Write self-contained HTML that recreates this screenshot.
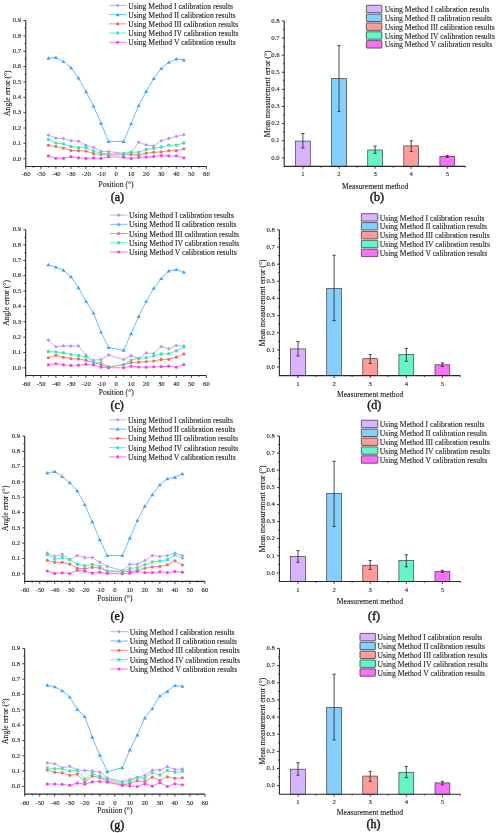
<!DOCTYPE html>
<html><head><meta charset="utf-8"><title>Calibration results figure</title>
<style>
html,body{margin:0;padding:0;background:#fff;}
body{width:496px;height:833px;overflow:hidden;}
svg{display:block;font-family:"Liberation Serif", serif;filter:blur(0.35px);}
</style></head><body>
<svg width="496" height="833" viewBox="0 0 496 833">
<rect width="496" height="833" fill="#fff"/>
<g stroke="#2a2a2a" stroke-width="1.1" fill="none">
<path d="M25.80 20.56V166.44H206.40"/>
<path d="M25.80 158.76h-2.4M25.80 143.41h-2.4M25.80 128.05h-2.4M25.80 112.69h-2.4M25.80 97.34h-2.4M25.80 81.98h-2.4M25.80 66.63h-2.4M25.80 51.27h-2.4M25.80 35.92h-2.4M25.80 20.56h-2.4M25.80 151.08h-1.3M25.80 135.73h-1.3M25.80 120.37h-1.3M25.80 105.02h-1.3M25.80 89.66h-1.3M25.80 74.31h-1.3M25.80 58.95h-1.3M25.80 43.60h-1.3M25.80 28.24h-1.3M25.80 166.44v2.4M40.85 166.44v2.4M55.90 166.44v2.4M70.95 166.44v2.4M86.00 166.44v2.4M101.05 166.44v2.4M116.10 166.44v2.4M131.15 166.44v2.4M146.20 166.44v2.4M161.25 166.44v2.4M176.30 166.44v2.4M191.35 166.44v2.4M206.40 166.44v2.4M33.33 166.44v1.3M48.38 166.44v1.3M63.42 166.44v1.3M78.47 166.44v1.3M93.52 166.44v1.3M108.57 166.44v1.3M123.62 166.44v1.3M138.67 166.44v1.3M153.72 166.44v1.3M168.78 166.44v1.3M183.82 166.44v1.3M198.88 166.44v1.3" stroke-width="0.9"/>
</g>
<g fill="#1a1a1a" stroke="#1a1a1a" stroke-width="0.1" font-family='"Liberation Serif", serif'>
<g stroke-width="0.1">
<text x="21.20" y="160.51" font-size="6.7" text-anchor="end" >0.0</text>
<text x="21.20" y="145.16" font-size="6.7" text-anchor="end" >0.1</text>
<text x="21.20" y="129.80" font-size="6.7" text-anchor="end" >0.2</text>
<text x="21.20" y="114.44" font-size="6.7" text-anchor="end" >0.3</text>
<text x="21.20" y="99.09" font-size="6.7" text-anchor="end" >0.4</text>
<text x="21.20" y="83.73" font-size="6.7" text-anchor="end" >0.5</text>
<text x="21.20" y="68.38" font-size="6.7" text-anchor="end" >0.6</text>
<text x="21.20" y="53.02" font-size="6.7" text-anchor="end" >0.7</text>
<text x="21.20" y="37.67" font-size="6.7" text-anchor="end" >0.8</text>
<text x="21.20" y="22.31" font-size="6.7" text-anchor="end" >0.9</text>
<text x="26.10" y="176.20" font-size="6.7" text-anchor="middle" >-60</text>
<text x="41.15" y="176.20" font-size="6.7" text-anchor="middle" >-50</text>
<text x="56.20" y="176.20" font-size="6.7" text-anchor="middle" >-40</text>
<text x="71.25" y="176.20" font-size="6.7" text-anchor="middle" >-30</text>
<text x="86.30" y="176.20" font-size="6.7" text-anchor="middle" >-20</text>
<text x="101.35" y="176.20" font-size="6.7" text-anchor="middle" >-10</text>
<text x="116.10" y="176.20" font-size="6.7" text-anchor="middle" >0</text>
<text x="131.15" y="176.20" font-size="6.7" text-anchor="middle" >10</text>
<text x="146.20" y="176.20" font-size="6.7" text-anchor="middle" >20</text>
<text x="161.25" y="176.20" font-size="6.7" text-anchor="middle" >30</text>
<text x="176.30" y="176.20" font-size="6.7" text-anchor="middle" >40</text>
<text x="191.35" y="176.20" font-size="6.7" text-anchor="middle" >50</text>
<text x="206.40" y="176.20" font-size="6.7" text-anchor="middle" >60</text>
</g>
<text x="116.00" y="187.30" font-size="7.65" text-anchor="middle" >Position (°)</text>
<text x="117.40" y="201.00" font-size="12" text-anchor="middle" stroke-width="0.45">(a)</text>
<text transform="translate(9.60 93.20) rotate(-90)" font-size="7.65" text-anchor="middle">Angle error (°)</text>
<text x="128.20" y="8.50" font-size="7.65" text-anchor="start" >Using Method I calibration results</text>
<text x="128.20" y="17.72" font-size="7.65" text-anchor="start" >Using Method II calibration results</text>
<text x="128.20" y="26.94" font-size="7.65" text-anchor="start" >Using Method III calibration results</text>
<text x="128.20" y="36.16" font-size="7.65" text-anchor="start" >Using Method IV calibration results</text>
<text x="128.20" y="45.38" font-size="7.65" text-anchor="start" >Using Method V calibration results</text>
</g>
<path d="M109.00 5.40H126.40" stroke="#C99AF8" stroke-width="0.9"/>
<path d="M117.70 3.50L119.60 5.40L117.70 7.30L115.80 5.40Z" fill="#C28CFA"/>
<path d="M109.00 14.62H126.40" stroke="#5CB6F2" stroke-width="0.9"/>
<path d="M117.70 12.72L119.75 16.14L115.65 16.14Z" fill="#3AA6F5"/>
<path d="M109.00 23.84H126.40" stroke="#F27F7F" stroke-width="0.9"/>
<circle cx="117.70" cy="23.84" r="1.60" fill="#F76868"/>
<path d="M109.00 33.06H126.40" stroke="#52EDB9" stroke-width="0.9"/>
<rect x="116.25" y="31.61" width="2.90" height="2.90" rx="0.5" fill="#30EBA8"/>
<path d="M109.00 42.28H126.40" stroke="#F26AF2" stroke-width="0.9"/>
<circle cx="117.70" cy="42.28" r="1.60" fill="#F540F5"/>
<path d="M48.38 135.03L55.90 138.13L63.42 138.60L70.95 140.77L78.47 141.24L86.00 145.26L93.52 147.44L101.05 151.47L108.57 151.47L123.62 153.32L131.15 152.55L138.67 142.32L146.20 144.96L153.72 146.04L161.25 140.77L168.78 138.44L176.30 136.43L183.82 134.72" fill="none" stroke="#C99AF8" stroke-width="0.9"/>
<path d="M48.38 58.16L55.90 57.38L63.42 61.56L70.95 67.61L78.47 77.99L86.00 91.64L93.52 106.05L101.05 123.25L108.57 141.39L123.62 141.39L131.15 123.56L138.67 105.43L146.20 91.48L153.72 78.46L161.25 68.54L168.78 62.34L176.30 58.93L183.82 59.86" fill="none" stroke="#5CB6F2" stroke-width="0.9"/>
<path d="M48.38 145.26L55.90 146.50L63.42 148.06L70.95 150.53L78.47 150.69L86.00 151.00L93.52 153.63L101.05 154.56L108.57 155.03L123.62 154.88L131.15 154.41L138.67 154.88L146.20 153.17L153.72 152.24L161.25 151.93L168.78 150.69L176.30 150.69L183.82 148.83" fill="none" stroke="#F27F7F" stroke-width="0.9"/>
<path d="M48.38 139.38L55.90 143.09L63.42 143.87L70.95 146.50L78.47 147.44L86.00 147.44L93.52 151.00L101.05 153.32L108.57 153.79L123.62 153.48L131.15 152.24L138.67 152.24L146.20 149.45L153.72 148.37L161.25 146.97L168.78 145.11L176.30 145.11L183.82 142.94" fill="none" stroke="#52EDB9" stroke-width="0.9"/>
<path d="M48.38 155.96L55.90 158.28L63.42 158.28L70.95 156.58L78.47 157.82L86.00 158.44L93.52 157.97L101.05 158.44L108.57 156.74L123.62 157.35L131.15 158.44L138.67 157.35L146.20 157.04L153.72 156.43L161.25 155.65L168.78 155.96L176.30 155.96L183.82 157.82" fill="none" stroke="#F26AF2" stroke-width="0.9"/>
<path d="M48.38 133.13L50.27 135.03L48.38 136.94L46.48 135.03Z" fill="#C28CFA"/>
<path d="M55.90 136.23L57.80 138.13L55.90 140.03L54.00 138.13Z" fill="#C28CFA"/>
<path d="M63.42 136.70L65.33 138.60L63.42 140.50L61.52 138.60Z" fill="#C28CFA"/>
<path d="M70.95 138.87L72.85 140.77L70.95 142.67L69.05 140.77Z" fill="#C28CFA"/>
<path d="M78.47 139.34L80.38 141.24L78.47 143.14L76.57 141.24Z" fill="#C28CFA"/>
<path d="M86.00 143.36L87.90 145.26L86.00 147.16L84.10 145.26Z" fill="#C28CFA"/>
<path d="M93.52 145.53L95.42 147.44L93.52 149.34L91.62 147.44Z" fill="#C28CFA"/>
<path d="M101.05 149.56L102.95 151.47L101.05 153.37L99.15 151.47Z" fill="#C28CFA"/>
<path d="M108.57 149.56L110.47 151.47L108.57 153.37L106.67 151.47Z" fill="#C28CFA"/>
<path d="M123.62 151.42L125.52 153.32L123.62 155.22L121.72 153.32Z" fill="#C28CFA"/>
<path d="M131.15 150.65L133.05 152.55L131.15 154.45L129.25 152.55Z" fill="#C28CFA"/>
<path d="M138.67 140.42L140.57 142.32L138.67 144.22L136.77 142.32Z" fill="#C28CFA"/>
<path d="M146.20 143.06L148.10 144.96L146.20 146.86L144.30 144.96Z" fill="#C28CFA"/>
<path d="M153.72 144.14L155.62 146.04L153.72 147.94L151.82 146.04Z" fill="#C28CFA"/>
<path d="M161.25 138.87L163.15 140.77L161.25 142.67L159.35 140.77Z" fill="#C28CFA"/>
<path d="M168.78 136.54L170.68 138.44L168.78 140.34L166.88 138.44Z" fill="#C28CFA"/>
<path d="M176.30 134.53L178.20 136.43L176.30 138.33L174.40 136.43Z" fill="#C28CFA"/>
<path d="M183.82 132.82L185.72 134.72L183.82 136.62L181.92 134.72Z" fill="#C28CFA"/>
<path d="M48.38 56.26L50.42 59.68L46.33 59.68Z" fill="#3AA6F5"/>
<path d="M55.90 55.48L57.95 58.90L53.85 58.90Z" fill="#3AA6F5"/>
<path d="M63.42 59.66L65.47 63.09L61.38 63.09Z" fill="#3AA6F5"/>
<path d="M70.95 65.71L73.00 69.13L68.90 69.13Z" fill="#3AA6F5"/>
<path d="M78.47 76.09L80.52 79.51L76.42 79.51Z" fill="#3AA6F5"/>
<path d="M86.00 89.73L88.05 93.16L83.95 93.16Z" fill="#3AA6F5"/>
<path d="M93.52 104.15L95.57 107.57L91.47 107.57Z" fill="#3AA6F5"/>
<path d="M101.05 121.35L103.10 124.77L99.00 124.77Z" fill="#3AA6F5"/>
<path d="M108.57 139.49L110.62 142.91L106.52 142.91Z" fill="#3AA6F5"/>
<path d="M123.62 139.49L125.67 142.91L121.57 142.91Z" fill="#3AA6F5"/>
<path d="M131.15 121.66L133.20 125.08L129.10 125.08Z" fill="#3AA6F5"/>
<path d="M138.67 103.53L140.72 106.95L136.62 106.95Z" fill="#3AA6F5"/>
<path d="M146.20 89.58L148.25 93.00L144.15 93.00Z" fill="#3AA6F5"/>
<path d="M153.72 76.56L155.78 79.98L151.67 79.98Z" fill="#3AA6F5"/>
<path d="M161.25 66.64L163.30 70.06L159.20 70.06Z" fill="#3AA6F5"/>
<path d="M168.78 60.44L170.83 63.86L166.72 63.86Z" fill="#3AA6F5"/>
<path d="M176.30 57.03L178.35 60.45L174.25 60.45Z" fill="#3AA6F5"/>
<path d="M183.82 57.96L185.88 61.38L181.77 61.38Z" fill="#3AA6F5"/>
<circle cx="48.38" cy="145.26" r="1.60" fill="#F76868"/>
<circle cx="55.90" cy="146.50" r="1.60" fill="#F76868"/>
<circle cx="63.42" cy="148.06" r="1.60" fill="#F76868"/>
<circle cx="70.95" cy="150.53" r="1.60" fill="#F76868"/>
<circle cx="78.47" cy="150.69" r="1.60" fill="#F76868"/>
<circle cx="86.00" cy="151.00" r="1.60" fill="#F76868"/>
<circle cx="93.52" cy="153.63" r="1.60" fill="#F76868"/>
<circle cx="101.05" cy="154.56" r="1.60" fill="#F76868"/>
<circle cx="108.57" cy="155.03" r="1.60" fill="#F76868"/>
<circle cx="123.62" cy="154.88" r="1.60" fill="#F76868"/>
<circle cx="131.15" cy="154.41" r="1.60" fill="#F76868"/>
<circle cx="138.67" cy="154.88" r="1.60" fill="#F76868"/>
<circle cx="146.20" cy="153.17" r="1.60" fill="#F76868"/>
<circle cx="153.72" cy="152.24" r="1.60" fill="#F76868"/>
<circle cx="161.25" cy="151.93" r="1.60" fill="#F76868"/>
<circle cx="168.78" cy="150.69" r="1.60" fill="#F76868"/>
<circle cx="176.30" cy="150.69" r="1.60" fill="#F76868"/>
<circle cx="183.82" cy="148.83" r="1.60" fill="#F76868"/>
<rect x="46.92" y="137.93" width="2.90" height="2.90" rx="0.5" fill="#30EBA8"/>
<rect x="54.45" y="141.65" width="2.90" height="2.90" rx="0.5" fill="#30EBA8"/>
<rect x="61.97" y="142.42" width="2.90" height="2.90" rx="0.5" fill="#30EBA8"/>
<rect x="69.50" y="145.06" width="2.90" height="2.90" rx="0.5" fill="#30EBA8"/>
<rect x="77.02" y="145.99" width="2.90" height="2.90" rx="0.5" fill="#30EBA8"/>
<rect x="84.55" y="145.99" width="2.90" height="2.90" rx="0.5" fill="#30EBA8"/>
<rect x="92.07" y="149.55" width="2.90" height="2.90" rx="0.5" fill="#30EBA8"/>
<rect x="99.60" y="151.88" width="2.90" height="2.90" rx="0.5" fill="#30EBA8"/>
<rect x="107.12" y="152.34" width="2.90" height="2.90" rx="0.5" fill="#30EBA8"/>
<rect x="122.17" y="152.03" width="2.90" height="2.90" rx="0.5" fill="#30EBA8"/>
<rect x="129.70" y="150.79" width="2.90" height="2.90" rx="0.5" fill="#30EBA8"/>
<rect x="137.22" y="150.79" width="2.90" height="2.90" rx="0.5" fill="#30EBA8"/>
<rect x="144.75" y="148.00" width="2.90" height="2.90" rx="0.5" fill="#30EBA8"/>
<rect x="152.28" y="146.92" width="2.90" height="2.90" rx="0.5" fill="#30EBA8"/>
<rect x="159.80" y="145.52" width="2.90" height="2.90" rx="0.5" fill="#30EBA8"/>
<rect x="167.33" y="143.66" width="2.90" height="2.90" rx="0.5" fill="#30EBA8"/>
<rect x="174.85" y="143.66" width="2.90" height="2.90" rx="0.5" fill="#30EBA8"/>
<rect x="182.38" y="141.49" width="2.90" height="2.90" rx="0.5" fill="#30EBA8"/>
<circle cx="48.38" cy="155.96" r="1.60" fill="#F540F5"/>
<circle cx="55.90" cy="158.28" r="1.60" fill="#F540F5"/>
<circle cx="63.42" cy="158.28" r="1.60" fill="#F540F5"/>
<circle cx="70.95" cy="156.58" r="1.60" fill="#F540F5"/>
<circle cx="78.47" cy="157.82" r="1.60" fill="#F540F5"/>
<circle cx="86.00" cy="158.44" r="1.60" fill="#F540F5"/>
<circle cx="93.52" cy="157.97" r="1.60" fill="#F540F5"/>
<circle cx="101.05" cy="158.44" r="1.60" fill="#F540F5"/>
<circle cx="108.57" cy="156.74" r="1.60" fill="#F540F5"/>
<circle cx="123.62" cy="157.35" r="1.60" fill="#F540F5"/>
<circle cx="131.15" cy="158.44" r="1.60" fill="#F540F5"/>
<circle cx="138.67" cy="157.35" r="1.60" fill="#F540F5"/>
<circle cx="146.20" cy="157.04" r="1.60" fill="#F540F5"/>
<circle cx="153.72" cy="156.43" r="1.60" fill="#F540F5"/>
<circle cx="161.25" cy="155.65" r="1.60" fill="#F540F5"/>
<circle cx="168.78" cy="155.96" r="1.60" fill="#F540F5"/>
<circle cx="176.30" cy="155.96" r="1.60" fill="#F540F5"/>
<circle cx="183.82" cy="157.82" r="1.60" fill="#F540F5"/>
<g stroke="#2a2a2a" stroke-width="1.1" fill="none">
<path d="M25.70 229.70V375.49H206.40"/>
<path d="M25.70 367.82h-2.4M25.70 352.47h-2.4M25.70 337.13h-2.4M25.70 321.78h-2.4M25.70 306.43h-2.4M25.70 291.08h-2.4M25.70 275.74h-2.4M25.70 260.39h-2.4M25.70 245.04h-2.4M25.70 229.70h-2.4M25.70 360.15h-1.3M25.70 344.80h-1.3M25.70 329.45h-1.3M25.70 314.11h-1.3M25.70 298.76h-1.3M25.70 283.41h-1.3M25.70 268.06h-1.3M25.70 252.72h-1.3M25.70 237.37h-1.3M25.80 375.49v2.4M40.85 375.49v2.4M55.90 375.49v2.4M70.95 375.49v2.4M86.00 375.49v2.4M101.05 375.49v2.4M116.10 375.49v2.4M131.15 375.49v2.4M146.20 375.49v2.4M161.25 375.49v2.4M176.30 375.49v2.4M191.35 375.49v2.4M206.40 375.49v2.4M33.33 375.49v1.3M48.38 375.49v1.3M63.42 375.49v1.3M78.47 375.49v1.3M93.52 375.49v1.3M108.57 375.49v1.3M123.62 375.49v1.3M138.67 375.49v1.3M153.72 375.49v1.3M168.78 375.49v1.3M183.82 375.49v1.3M198.88 375.49v1.3" stroke-width="0.9"/>
</g>
<g fill="#1a1a1a" stroke="#1a1a1a" stroke-width="0.1" font-family='"Liberation Serif", serif'>
<g stroke-width="0.1">
<text x="21.10" y="369.57" font-size="6.7" text-anchor="end" >0.0</text>
<text x="21.10" y="354.22" font-size="6.7" text-anchor="end" >0.1</text>
<text x="21.10" y="338.88" font-size="6.7" text-anchor="end" >0.2</text>
<text x="21.10" y="323.53" font-size="6.7" text-anchor="end" >0.3</text>
<text x="21.10" y="308.18" font-size="6.7" text-anchor="end" >0.4</text>
<text x="21.10" y="292.83" font-size="6.7" text-anchor="end" >0.5</text>
<text x="21.10" y="277.49" font-size="6.7" text-anchor="end" >0.6</text>
<text x="21.10" y="262.14" font-size="6.7" text-anchor="end" >0.7</text>
<text x="21.10" y="246.79" font-size="6.7" text-anchor="end" >0.8</text>
<text x="21.10" y="231.45" font-size="6.7" text-anchor="end" >0.9</text>
<text x="26.10" y="386.00" font-size="6.7" text-anchor="middle" >-60</text>
<text x="41.15" y="386.00" font-size="6.7" text-anchor="middle" >-50</text>
<text x="56.20" y="386.00" font-size="6.7" text-anchor="middle" >-40</text>
<text x="71.25" y="386.00" font-size="6.7" text-anchor="middle" >-30</text>
<text x="86.30" y="386.00" font-size="6.7" text-anchor="middle" >-20</text>
<text x="101.35" y="386.00" font-size="6.7" text-anchor="middle" >-10</text>
<text x="116.10" y="386.00" font-size="6.7" text-anchor="middle" >0</text>
<text x="131.15" y="386.00" font-size="6.7" text-anchor="middle" >10</text>
<text x="146.20" y="386.00" font-size="6.7" text-anchor="middle" >20</text>
<text x="161.25" y="386.00" font-size="6.7" text-anchor="middle" >30</text>
<text x="176.30" y="386.00" font-size="6.7" text-anchor="middle" >40</text>
<text x="191.35" y="386.00" font-size="6.7" text-anchor="middle" >50</text>
<text x="206.40" y="386.00" font-size="6.7" text-anchor="middle" >60</text>
</g>
<text x="116.20" y="394.50" font-size="7.65" text-anchor="middle" >Position (°)</text>
<text x="117.10" y="408.70" font-size="12" text-anchor="middle" stroke-width="0.45">(c)</text>
<text transform="translate(8.70 302.80) rotate(-90)" font-size="7.65" text-anchor="middle">Angle error (°)</text>
<text x="129.10" y="218.20" font-size="7.65" text-anchor="start" >Using Method I calibration results</text>
<text x="129.10" y="227.42" font-size="7.65" text-anchor="start" >Using Method II calibration results</text>
<text x="129.10" y="236.64" font-size="7.65" text-anchor="start" >Using Method III calibration results</text>
<text x="129.10" y="245.86" font-size="7.65" text-anchor="start" >Using Method IV calibration results</text>
<text x="129.10" y="255.08" font-size="7.65" text-anchor="start" >Using Method V calibration results</text>
</g>
<path d="M110.00 215.10H127.40" stroke="#C99AF8" stroke-width="0.9"/>
<path d="M118.70 213.20L120.60 215.10L118.70 217.00L116.80 215.10Z" fill="#C28CFA"/>
<path d="M110.00 224.32H127.40" stroke="#5CB6F2" stroke-width="0.9"/>
<path d="M118.70 222.42L120.75 225.84L116.65 225.84Z" fill="#3AA6F5"/>
<path d="M110.00 233.54H127.40" stroke="#F27F7F" stroke-width="0.9"/>
<circle cx="118.70" cy="233.54" r="1.60" fill="#F76868"/>
<path d="M110.00 242.76H127.40" stroke="#52EDB9" stroke-width="0.9"/>
<rect x="117.25" y="241.31" width="2.90" height="2.90" rx="0.5" fill="#30EBA8"/>
<path d="M110.00 251.98H127.40" stroke="#F26AF2" stroke-width="0.9"/>
<circle cx="118.70" cy="251.98" r="1.60" fill="#F540F5"/>
<path d="M48.38 340.08L55.90 346.84L63.42 345.92L70.95 346.07L78.47 345.92L86.00 355.30L93.52 360.21L101.05 359.60L108.57 354.99L123.62 359.60L131.15 355.76L138.67 358.52L146.20 352.99L153.72 353.45L161.25 346.54L168.78 348.84L176.30 345.46L183.82 346.07" fill="none" stroke="#C99AF8" stroke-width="0.9"/>
<path d="M48.38 264.77L55.90 267.07L63.42 270.15L70.95 276.76L78.47 287.67L86.00 301.35L93.52 313.03L101.05 332.09L108.57 347.46L123.62 350.22L131.15 333.62L138.67 316.41L146.20 301.35L153.72 288.28L161.25 278.60L168.78 270.92L176.30 269.53L183.82 272.14" fill="none" stroke="#5CB6F2" stroke-width="0.9"/>
<path d="M48.38 357.76L55.90 355.30L63.42 357.29L70.95 358.68L78.47 358.83L86.00 360.37L93.52 362.67L101.05 364.52L108.57 367.13L123.62 364.83L131.15 362.52L138.67 362.21L146.20 361.60L153.72 360.98L161.25 359.45L168.78 359.29L176.30 357.14L183.82 353.91" fill="none" stroke="#F27F7F" stroke-width="0.9"/>
<path d="M48.38 351.45L55.90 351.92L63.42 352.68L70.95 354.37L78.47 355.45L86.00 356.99L93.52 362.37L101.05 362.67L108.57 366.82L123.62 364.52L131.15 360.21L138.67 358.52L146.20 357.76L153.72 355.76L161.25 354.07L168.78 353.76L176.30 350.69L183.82 347.15" fill="none" stroke="#52EDB9" stroke-width="0.9"/>
<path d="M48.38 364.83L55.90 363.75L63.42 364.83L70.95 365.44L78.47 365.13L86.00 364.21L93.52 364.83L101.05 367.13L108.57 367.75L123.62 367.75L131.15 366.21L138.67 366.98L146.20 367.13L153.72 366.82L161.25 366.67L168.78 366.21L176.30 367.13L183.82 364.52" fill="none" stroke="#F26AF2" stroke-width="0.9"/>
<path d="M48.38 338.18L50.27 340.08L48.38 341.98L46.48 340.08Z" fill="#C28CFA"/>
<path d="M55.90 344.94L57.80 346.84L55.90 348.74L54.00 346.84Z" fill="#C28CFA"/>
<path d="M63.42 344.02L65.33 345.92L63.42 347.82L61.52 345.92Z" fill="#C28CFA"/>
<path d="M70.95 344.17L72.85 346.07L70.95 347.97L69.05 346.07Z" fill="#C28CFA"/>
<path d="M78.47 344.02L80.38 345.92L78.47 347.82L76.57 345.92Z" fill="#C28CFA"/>
<path d="M86.00 353.40L87.90 355.30L86.00 357.20L84.10 355.30Z" fill="#C28CFA"/>
<path d="M93.52 358.31L95.42 360.21L93.52 362.11L91.62 360.21Z" fill="#C28CFA"/>
<path d="M101.05 357.70L102.95 359.60L101.05 361.50L99.15 359.60Z" fill="#C28CFA"/>
<path d="M108.57 353.09L110.47 354.99L108.57 356.89L106.67 354.99Z" fill="#C28CFA"/>
<path d="M123.62 357.70L125.52 359.60L123.62 361.50L121.72 359.60Z" fill="#C28CFA"/>
<path d="M131.15 353.86L133.05 355.76L131.15 357.66L129.25 355.76Z" fill="#C28CFA"/>
<path d="M138.67 356.62L140.57 358.52L138.67 360.42L136.77 358.52Z" fill="#C28CFA"/>
<path d="M146.20 351.09L148.10 352.99L146.20 354.89L144.30 352.99Z" fill="#C28CFA"/>
<path d="M153.72 351.55L155.62 353.45L153.72 355.35L151.82 353.45Z" fill="#C28CFA"/>
<path d="M161.25 344.64L163.15 346.54L161.25 348.44L159.35 346.54Z" fill="#C28CFA"/>
<path d="M168.78 346.94L170.68 348.84L168.78 350.74L166.88 348.84Z" fill="#C28CFA"/>
<path d="M176.30 343.56L178.20 345.46L176.30 347.36L174.40 345.46Z" fill="#C28CFA"/>
<path d="M183.82 344.17L185.72 346.07L183.82 347.97L181.92 346.07Z" fill="#C28CFA"/>
<path d="M48.38 262.87L50.42 266.29L46.33 266.29Z" fill="#3AA6F5"/>
<path d="M55.90 265.17L57.95 268.59L53.85 268.59Z" fill="#3AA6F5"/>
<path d="M63.42 268.25L65.47 271.67L61.38 271.67Z" fill="#3AA6F5"/>
<path d="M70.95 274.86L73.00 278.28L68.90 278.28Z" fill="#3AA6F5"/>
<path d="M78.47 285.77L80.52 289.19L76.42 289.19Z" fill="#3AA6F5"/>
<path d="M86.00 299.45L88.05 302.87L83.95 302.87Z" fill="#3AA6F5"/>
<path d="M93.52 311.13L95.57 314.55L91.47 314.55Z" fill="#3AA6F5"/>
<path d="M101.05 330.19L103.10 333.61L99.00 333.61Z" fill="#3AA6F5"/>
<path d="M108.57 345.56L110.62 348.98L106.52 348.98Z" fill="#3AA6F5"/>
<path d="M123.62 348.32L125.67 351.74L121.57 351.74Z" fill="#3AA6F5"/>
<path d="M131.15 331.72L133.20 335.14L129.10 335.14Z" fill="#3AA6F5"/>
<path d="M138.67 314.51L140.72 317.93L136.62 317.93Z" fill="#3AA6F5"/>
<path d="M146.20 299.45L148.25 302.87L144.15 302.87Z" fill="#3AA6F5"/>
<path d="M153.72 286.38L155.78 289.80L151.67 289.80Z" fill="#3AA6F5"/>
<path d="M161.25 276.70L163.30 280.12L159.20 280.12Z" fill="#3AA6F5"/>
<path d="M168.78 269.02L170.83 272.44L166.72 272.44Z" fill="#3AA6F5"/>
<path d="M176.30 267.63L178.35 271.05L174.25 271.05Z" fill="#3AA6F5"/>
<path d="M183.82 270.24L185.88 273.66L181.77 273.66Z" fill="#3AA6F5"/>
<circle cx="48.38" cy="357.76" r="1.60" fill="#F76868"/>
<circle cx="55.90" cy="355.30" r="1.60" fill="#F76868"/>
<circle cx="63.42" cy="357.29" r="1.60" fill="#F76868"/>
<circle cx="70.95" cy="358.68" r="1.60" fill="#F76868"/>
<circle cx="78.47" cy="358.83" r="1.60" fill="#F76868"/>
<circle cx="86.00" cy="360.37" r="1.60" fill="#F76868"/>
<circle cx="93.52" cy="362.67" r="1.60" fill="#F76868"/>
<circle cx="101.05" cy="364.52" r="1.60" fill="#F76868"/>
<circle cx="108.57" cy="367.13" r="1.60" fill="#F76868"/>
<circle cx="123.62" cy="364.83" r="1.60" fill="#F76868"/>
<circle cx="131.15" cy="362.52" r="1.60" fill="#F76868"/>
<circle cx="138.67" cy="362.21" r="1.60" fill="#F76868"/>
<circle cx="146.20" cy="361.60" r="1.60" fill="#F76868"/>
<circle cx="153.72" cy="360.98" r="1.60" fill="#F76868"/>
<circle cx="161.25" cy="359.45" r="1.60" fill="#F76868"/>
<circle cx="168.78" cy="359.29" r="1.60" fill="#F76868"/>
<circle cx="176.30" cy="357.14" r="1.60" fill="#F76868"/>
<circle cx="183.82" cy="353.91" r="1.60" fill="#F76868"/>
<rect x="46.92" y="350.00" width="2.90" height="2.90" rx="0.5" fill="#30EBA8"/>
<rect x="54.45" y="350.47" width="2.90" height="2.90" rx="0.5" fill="#30EBA8"/>
<rect x="61.97" y="351.23" width="2.90" height="2.90" rx="0.5" fill="#30EBA8"/>
<rect x="69.50" y="352.92" width="2.90" height="2.90" rx="0.5" fill="#30EBA8"/>
<rect x="77.02" y="354.00" width="2.90" height="2.90" rx="0.5" fill="#30EBA8"/>
<rect x="84.55" y="355.54" width="2.90" height="2.90" rx="0.5" fill="#30EBA8"/>
<rect x="92.07" y="360.92" width="2.90" height="2.90" rx="0.5" fill="#30EBA8"/>
<rect x="99.60" y="361.22" width="2.90" height="2.90" rx="0.5" fill="#30EBA8"/>
<rect x="107.12" y="365.37" width="2.90" height="2.90" rx="0.5" fill="#30EBA8"/>
<rect x="122.17" y="363.07" width="2.90" height="2.90" rx="0.5" fill="#30EBA8"/>
<rect x="129.70" y="358.76" width="2.90" height="2.90" rx="0.5" fill="#30EBA8"/>
<rect x="137.22" y="357.07" width="2.90" height="2.90" rx="0.5" fill="#30EBA8"/>
<rect x="144.75" y="356.31" width="2.90" height="2.90" rx="0.5" fill="#30EBA8"/>
<rect x="152.28" y="354.31" width="2.90" height="2.90" rx="0.5" fill="#30EBA8"/>
<rect x="159.80" y="352.62" width="2.90" height="2.90" rx="0.5" fill="#30EBA8"/>
<rect x="167.33" y="352.31" width="2.90" height="2.90" rx="0.5" fill="#30EBA8"/>
<rect x="174.85" y="349.24" width="2.90" height="2.90" rx="0.5" fill="#30EBA8"/>
<rect x="182.38" y="345.70" width="2.90" height="2.90" rx="0.5" fill="#30EBA8"/>
<circle cx="48.38" cy="364.83" r="1.60" fill="#F540F5"/>
<circle cx="55.90" cy="363.75" r="1.60" fill="#F540F5"/>
<circle cx="63.42" cy="364.83" r="1.60" fill="#F540F5"/>
<circle cx="70.95" cy="365.44" r="1.60" fill="#F540F5"/>
<circle cx="78.47" cy="365.13" r="1.60" fill="#F540F5"/>
<circle cx="86.00" cy="364.21" r="1.60" fill="#F540F5"/>
<circle cx="93.52" cy="364.83" r="1.60" fill="#F540F5"/>
<circle cx="101.05" cy="367.13" r="1.60" fill="#F540F5"/>
<circle cx="108.57" cy="367.75" r="1.60" fill="#F540F5"/>
<circle cx="123.62" cy="367.75" r="1.60" fill="#F540F5"/>
<circle cx="131.15" cy="366.21" r="1.60" fill="#F540F5"/>
<circle cx="138.67" cy="366.98" r="1.60" fill="#F540F5"/>
<circle cx="146.20" cy="367.13" r="1.60" fill="#F540F5"/>
<circle cx="153.72" cy="366.82" r="1.60" fill="#F540F5"/>
<circle cx="161.25" cy="366.67" r="1.60" fill="#F540F5"/>
<circle cx="168.78" cy="366.21" r="1.60" fill="#F540F5"/>
<circle cx="176.30" cy="367.13" r="1.60" fill="#F540F5"/>
<circle cx="183.82" cy="364.52" r="1.60" fill="#F540F5"/>
<g stroke="#2a2a2a" stroke-width="1.1" fill="none">
<path d="M24.70 436.01V581.40H204.90"/>
<path d="M24.70 573.75h-2.4M24.70 558.45h-2.4M24.70 543.14h-2.4M24.70 527.84h-2.4M24.70 512.53h-2.4M24.70 497.23h-2.4M24.70 481.93h-2.4M24.70 466.62h-2.4M24.70 451.32h-2.4M24.70 436.01h-2.4M24.70 566.10h-1.3M24.70 550.79h-1.3M24.70 535.49h-1.3M24.70 520.19h-1.3M24.70 504.88h-1.3M24.70 489.58h-1.3M24.70 474.27h-1.3M24.70 458.97h-1.3M24.70 443.67h-1.3M24.70 581.40v2.4M39.72 581.40v2.4M54.73 581.40v2.4M69.75 581.40v2.4M84.77 581.40v2.4M99.79 581.40v2.4M114.80 581.40v2.4M129.82 581.40v2.4M144.84 581.40v2.4M159.85 581.40v2.4M174.87 581.40v2.4M189.89 581.40v2.4M204.90 581.40v2.4M32.21 581.40v1.3M47.23 581.40v1.3M62.24 581.40v1.3M77.26 581.40v1.3M92.28 581.40v1.3M107.29 581.40v1.3M122.31 581.40v1.3M137.33 581.40v1.3M152.34 581.40v1.3M167.36 581.40v1.3M182.38 581.40v1.3M197.40 581.40v1.3" stroke-width="0.9"/>
</g>
<g fill="#1a1a1a" stroke="#1a1a1a" stroke-width="0.1" font-family='"Liberation Serif", serif'>
<g stroke-width="0.1">
<text x="20.10" y="575.50" font-size="6.7" text-anchor="end" >0.0</text>
<text x="20.10" y="560.20" font-size="6.7" text-anchor="end" >0.1</text>
<text x="20.10" y="544.89" font-size="6.7" text-anchor="end" >0.2</text>
<text x="20.10" y="529.59" font-size="6.7" text-anchor="end" >0.3</text>
<text x="20.10" y="514.28" font-size="6.7" text-anchor="end" >0.4</text>
<text x="20.10" y="498.98" font-size="6.7" text-anchor="end" >0.5</text>
<text x="20.10" y="483.68" font-size="6.7" text-anchor="end" >0.6</text>
<text x="20.10" y="468.37" font-size="6.7" text-anchor="end" >0.7</text>
<text x="20.10" y="453.07" font-size="6.7" text-anchor="end" >0.8</text>
<text x="20.10" y="437.76" font-size="6.7" text-anchor="end" >0.9</text>
<text x="25.00" y="591.90" font-size="6.7" text-anchor="middle" >-60</text>
<text x="40.02" y="591.90" font-size="6.7" text-anchor="middle" >-50</text>
<text x="55.03" y="591.90" font-size="6.7" text-anchor="middle" >-40</text>
<text x="70.05" y="591.90" font-size="6.7" text-anchor="middle" >-30</text>
<text x="85.07" y="591.90" font-size="6.7" text-anchor="middle" >-20</text>
<text x="100.09" y="591.90" font-size="6.7" text-anchor="middle" >-10</text>
<text x="114.80" y="591.90" font-size="6.7" text-anchor="middle" >0</text>
<text x="129.82" y="591.90" font-size="6.7" text-anchor="middle" >10</text>
<text x="144.84" y="591.90" font-size="6.7" text-anchor="middle" >20</text>
<text x="159.85" y="591.90" font-size="6.7" text-anchor="middle" >30</text>
<text x="174.87" y="591.90" font-size="6.7" text-anchor="middle" >40</text>
<text x="189.89" y="591.90" font-size="6.7" text-anchor="middle" >50</text>
<text x="204.90" y="591.90" font-size="6.7" text-anchor="middle" >60</text>
</g>
<text x="114.90" y="600.70" font-size="7.65" text-anchor="middle" >Position (°)</text>
<text x="117.20" y="619.50" font-size="12" text-anchor="middle" stroke-width="0.45">(e)</text>
<text transform="translate(7.70 508.30) rotate(-90)" font-size="7.65" text-anchor="middle">Angle error (°)</text>
<text x="128.10" y="422.90" font-size="7.65" text-anchor="start" >Using Method I calibration results</text>
<text x="128.10" y="432.18" font-size="7.65" text-anchor="start" >Using Method II calibration results</text>
<text x="128.10" y="441.46" font-size="7.65" text-anchor="start" >Using Method III calibration results</text>
<text x="128.10" y="450.74" font-size="7.65" text-anchor="start" >Using Method IV calibration results</text>
<text x="128.10" y="460.02" font-size="7.65" text-anchor="start" >Using Method V calibration results</text>
</g>
<path d="M109.00 419.80H126.40" stroke="#C99AF8" stroke-width="0.9"/>
<path d="M117.70 417.90L119.60 419.80L117.70 421.70L115.80 419.80Z" fill="#C28CFA"/>
<path d="M109.00 429.08H126.40" stroke="#5CB6F2" stroke-width="0.9"/>
<path d="M117.70 427.18L119.75 430.60L115.65 430.60Z" fill="#3AA6F5"/>
<path d="M109.00 438.36H126.40" stroke="#F27F7F" stroke-width="0.9"/>
<circle cx="117.70" cy="438.36" r="1.60" fill="#F76868"/>
<path d="M109.00 447.64H126.40" stroke="#52EDB9" stroke-width="0.9"/>
<rect x="116.25" y="446.19" width="2.90" height="2.90" rx="0.5" fill="#30EBA8"/>
<path d="M109.00 456.92H126.40" stroke="#F26AF2" stroke-width="0.9"/>
<circle cx="117.70" cy="456.92" r="1.60" fill="#F540F5"/>
<path d="M47.23 553.23L54.73 556.45L62.24 554.46L69.75 559.51L77.26 555.53L84.77 557.52L92.28 557.52L99.79 562.27L107.29 566.40L122.31 570.53L129.82 564.26L137.33 564.26L144.84 560.43L152.34 555.53L159.85 556.45L167.36 555.53L174.87 553.23L182.38 555.53" fill="none" stroke="#C99AF8" stroke-width="0.9"/>
<path d="M47.23 473.01L54.73 471.48L62.24 476.53L69.75 482.66L77.26 490.77L84.77 504.55L92.28 521.70L99.79 539.76L107.29 555.53L122.31 555.53L129.82 538.08L137.33 520.47L144.84 506.23L152.34 494.75L159.85 484.80L167.36 478.67L174.87 477.14L182.38 473.62" fill="none" stroke="#5CB6F2" stroke-width="0.9"/>
<path d="M47.23 560.43L54.73 562.42L62.24 562.27L69.75 564.10L77.26 568.24L84.77 568.70L92.28 567.47L99.79 567.93L107.29 571.76L122.31 571.76L129.82 571.45L137.33 570.53L144.84 568.24L152.34 567.01L159.85 566.40L167.36 564.87L174.87 560.74L182.38 565.02" fill="none" stroke="#F27F7F" stroke-width="0.9"/>
<path d="M47.23 554.61L54.73 559.36L62.24 557.52L69.75 559.66L77.26 564.26L84.77 565.64L92.28 564.56L99.79 566.40L107.29 570.84L122.31 570.99L129.82 568.54L137.33 567.63L144.84 564.72L152.34 561.96L159.85 561.04L167.36 559.51L174.87 555.07L182.38 558.13" fill="none" stroke="#52EDB9" stroke-width="0.9"/>
<path d="M47.23 570.99L54.73 573.44L62.24 572.83L69.75 573.60L77.26 570.23L84.77 571.15L92.28 573.14L99.79 572.22L107.29 573.44L122.31 573.75L129.82 573.14L137.33 571.45L144.84 572.53L152.34 572.53L159.85 571.91L167.36 572.53L174.87 571.61L182.38 572.22" fill="none" stroke="#F26AF2" stroke-width="0.9"/>
<path d="M47.23 551.33L49.13 553.23L47.23 555.13L45.33 553.23Z" fill="#C28CFA"/>
<path d="M54.73 554.55L56.63 556.45L54.73 558.35L52.83 556.45Z" fill="#C28CFA"/>
<path d="M62.24 552.56L64.14 554.46L62.24 556.36L60.34 554.46Z" fill="#C28CFA"/>
<path d="M69.75 557.61L71.65 559.51L69.75 561.41L67.85 559.51Z" fill="#C28CFA"/>
<path d="M77.26 553.63L79.16 555.53L77.26 557.43L75.36 555.53Z" fill="#C28CFA"/>
<path d="M84.77 555.62L86.67 557.52L84.77 559.42L82.87 557.52Z" fill="#C28CFA"/>
<path d="M92.28 555.62L94.18 557.52L92.28 559.42L90.38 557.52Z" fill="#C28CFA"/>
<path d="M99.79 560.37L101.69 562.27L99.79 564.17L97.89 562.27Z" fill="#C28CFA"/>
<path d="M107.29 564.50L109.19 566.40L107.29 568.30L105.39 566.40Z" fill="#C28CFA"/>
<path d="M122.31 568.63L124.21 570.53L122.31 572.43L120.41 570.53Z" fill="#C28CFA"/>
<path d="M129.82 562.36L131.72 564.26L129.82 566.16L127.92 564.26Z" fill="#C28CFA"/>
<path d="M137.33 562.36L139.23 564.26L137.33 566.16L135.43 564.26Z" fill="#C28CFA"/>
<path d="M144.84 558.53L146.74 560.43L144.84 562.33L142.94 560.43Z" fill="#C28CFA"/>
<path d="M152.34 553.63L154.24 555.53L152.34 557.43L150.44 555.53Z" fill="#C28CFA"/>
<path d="M159.85 554.55L161.75 556.45L159.85 558.35L157.95 556.45Z" fill="#C28CFA"/>
<path d="M167.36 553.63L169.26 555.53L167.36 557.43L165.46 555.53Z" fill="#C28CFA"/>
<path d="M174.87 551.33L176.77 553.23L174.87 555.13L172.97 553.23Z" fill="#C28CFA"/>
<path d="M182.38 553.63L184.28 555.53L182.38 557.43L180.48 555.53Z" fill="#C28CFA"/>
<path d="M47.23 471.11L49.28 474.53L45.18 474.53Z" fill="#3AA6F5"/>
<path d="M54.73 469.58L56.78 473.00L52.68 473.00Z" fill="#3AA6F5"/>
<path d="M62.24 474.63L64.29 478.05L60.19 478.05Z" fill="#3AA6F5"/>
<path d="M69.75 480.76L71.80 484.18L67.70 484.18Z" fill="#3AA6F5"/>
<path d="M77.26 488.87L79.31 492.29L75.21 492.29Z" fill="#3AA6F5"/>
<path d="M84.77 502.65L86.82 506.07L82.72 506.07Z" fill="#3AA6F5"/>
<path d="M92.28 519.80L94.33 523.22L90.23 523.22Z" fill="#3AA6F5"/>
<path d="M99.79 537.86L101.84 541.28L97.74 541.28Z" fill="#3AA6F5"/>
<path d="M107.29 553.63L109.34 557.05L105.24 557.05Z" fill="#3AA6F5"/>
<path d="M122.31 553.63L124.36 557.05L120.26 557.05Z" fill="#3AA6F5"/>
<path d="M129.82 536.18L131.87 539.60L127.77 539.60Z" fill="#3AA6F5"/>
<path d="M137.33 518.57L139.38 521.99L135.28 521.99Z" fill="#3AA6F5"/>
<path d="M144.84 504.33L146.89 507.75L142.79 507.75Z" fill="#3AA6F5"/>
<path d="M152.34 492.85L154.39 496.27L150.29 496.27Z" fill="#3AA6F5"/>
<path d="M159.85 482.90L161.90 486.32L157.80 486.32Z" fill="#3AA6F5"/>
<path d="M167.36 476.77L169.41 480.19L165.31 480.19Z" fill="#3AA6F5"/>
<path d="M174.87 475.24L176.92 478.66L172.82 478.66Z" fill="#3AA6F5"/>
<path d="M182.38 471.72L184.43 475.14L180.33 475.14Z" fill="#3AA6F5"/>
<circle cx="47.23" cy="560.43" r="1.60" fill="#F76868"/>
<circle cx="54.73" cy="562.42" r="1.60" fill="#F76868"/>
<circle cx="62.24" cy="562.27" r="1.60" fill="#F76868"/>
<circle cx="69.75" cy="564.10" r="1.60" fill="#F76868"/>
<circle cx="77.26" cy="568.24" r="1.60" fill="#F76868"/>
<circle cx="84.77" cy="568.70" r="1.60" fill="#F76868"/>
<circle cx="92.28" cy="567.47" r="1.60" fill="#F76868"/>
<circle cx="99.79" cy="567.93" r="1.60" fill="#F76868"/>
<circle cx="107.29" cy="571.76" r="1.60" fill="#F76868"/>
<circle cx="122.31" cy="571.76" r="1.60" fill="#F76868"/>
<circle cx="129.82" cy="571.45" r="1.60" fill="#F76868"/>
<circle cx="137.33" cy="570.53" r="1.60" fill="#F76868"/>
<circle cx="144.84" cy="568.24" r="1.60" fill="#F76868"/>
<circle cx="152.34" cy="567.01" r="1.60" fill="#F76868"/>
<circle cx="159.85" cy="566.40" r="1.60" fill="#F76868"/>
<circle cx="167.36" cy="564.87" r="1.60" fill="#F76868"/>
<circle cx="174.87" cy="560.74" r="1.60" fill="#F76868"/>
<circle cx="182.38" cy="565.02" r="1.60" fill="#F76868"/>
<rect x="45.78" y="553.16" width="2.90" height="2.90" rx="0.5" fill="#30EBA8"/>
<rect x="53.28" y="557.91" width="2.90" height="2.90" rx="0.5" fill="#30EBA8"/>
<rect x="60.79" y="556.07" width="2.90" height="2.90" rx="0.5" fill="#30EBA8"/>
<rect x="68.30" y="558.21" width="2.90" height="2.90" rx="0.5" fill="#30EBA8"/>
<rect x="75.81" y="562.81" width="2.90" height="2.90" rx="0.5" fill="#30EBA8"/>
<rect x="83.32" y="564.19" width="2.90" height="2.90" rx="0.5" fill="#30EBA8"/>
<rect x="90.83" y="563.11" width="2.90" height="2.90" rx="0.5" fill="#30EBA8"/>
<rect x="98.34" y="564.95" width="2.90" height="2.90" rx="0.5" fill="#30EBA8"/>
<rect x="105.84" y="569.39" width="2.90" height="2.90" rx="0.5" fill="#30EBA8"/>
<rect x="120.86" y="569.54" width="2.90" height="2.90" rx="0.5" fill="#30EBA8"/>
<rect x="128.37" y="567.09" width="2.90" height="2.90" rx="0.5" fill="#30EBA8"/>
<rect x="135.88" y="566.18" width="2.90" height="2.90" rx="0.5" fill="#30EBA8"/>
<rect x="143.39" y="563.27" width="2.90" height="2.90" rx="0.5" fill="#30EBA8"/>
<rect x="150.89" y="560.51" width="2.90" height="2.90" rx="0.5" fill="#30EBA8"/>
<rect x="158.40" y="559.59" width="2.90" height="2.90" rx="0.5" fill="#30EBA8"/>
<rect x="165.91" y="558.06" width="2.90" height="2.90" rx="0.5" fill="#30EBA8"/>
<rect x="173.42" y="553.62" width="2.90" height="2.90" rx="0.5" fill="#30EBA8"/>
<rect x="180.93" y="556.68" width="2.90" height="2.90" rx="0.5" fill="#30EBA8"/>
<circle cx="47.23" cy="570.99" r="1.60" fill="#F540F5"/>
<circle cx="54.73" cy="573.44" r="1.60" fill="#F540F5"/>
<circle cx="62.24" cy="572.83" r="1.60" fill="#F540F5"/>
<circle cx="69.75" cy="573.60" r="1.60" fill="#F540F5"/>
<circle cx="77.26" cy="570.23" r="1.60" fill="#F540F5"/>
<circle cx="84.77" cy="571.15" r="1.60" fill="#F540F5"/>
<circle cx="92.28" cy="573.14" r="1.60" fill="#F540F5"/>
<circle cx="99.79" cy="572.22" r="1.60" fill="#F540F5"/>
<circle cx="107.29" cy="573.44" r="1.60" fill="#F540F5"/>
<circle cx="122.31" cy="573.75" r="1.60" fill="#F540F5"/>
<circle cx="129.82" cy="573.14" r="1.60" fill="#F540F5"/>
<circle cx="137.33" cy="571.45" r="1.60" fill="#F540F5"/>
<circle cx="144.84" cy="572.53" r="1.60" fill="#F540F5"/>
<circle cx="152.34" cy="572.53" r="1.60" fill="#F540F5"/>
<circle cx="159.85" cy="571.91" r="1.60" fill="#F540F5"/>
<circle cx="167.36" cy="572.53" r="1.60" fill="#F540F5"/>
<circle cx="174.87" cy="571.61" r="1.60" fill="#F540F5"/>
<circle cx="182.38" cy="572.22" r="1.60" fill="#F540F5"/>
<g stroke="#2a2a2a" stroke-width="1.1" fill="none">
<path d="M24.70 648.44V794.14H204.90"/>
<path d="M24.70 786.47h-2.4M24.70 771.13h-2.4M24.70 755.80h-2.4M24.70 740.46h-2.4M24.70 725.12h-2.4M24.70 709.79h-2.4M24.70 694.45h-2.4M24.70 679.11h-2.4M24.70 663.77h-2.4M24.70 648.44h-2.4M24.70 778.80h-1.3M24.70 763.46h-1.3M24.70 748.13h-1.3M24.70 732.79h-1.3M24.70 717.45h-1.3M24.70 702.12h-1.3M24.70 686.78h-1.3M24.70 671.44h-1.3M24.70 656.11h-1.3M24.70 794.14v2.4M39.72 794.14v2.4M54.73 794.14v2.4M69.75 794.14v2.4M84.77 794.14v2.4M99.79 794.14v2.4M114.80 794.14v2.4M129.82 794.14v2.4M144.84 794.14v2.4M159.85 794.14v2.4M174.87 794.14v2.4M189.89 794.14v2.4M204.90 794.14v2.4M32.21 794.14v1.3M47.23 794.14v1.3M62.24 794.14v1.3M77.26 794.14v1.3M92.28 794.14v1.3M107.29 794.14v1.3M122.31 794.14v1.3M137.33 794.14v1.3M152.34 794.14v1.3M167.36 794.14v1.3M182.38 794.14v1.3M197.40 794.14v1.3" stroke-width="0.9"/>
</g>
<g fill="#1a1a1a" stroke="#1a1a1a" stroke-width="0.1" font-family='"Liberation Serif", serif'>
<g stroke-width="0.1">
<text x="20.10" y="788.22" font-size="6.7" text-anchor="end" >0.0</text>
<text x="20.10" y="772.88" font-size="6.7" text-anchor="end" >0.1</text>
<text x="20.10" y="757.55" font-size="6.7" text-anchor="end" >0.2</text>
<text x="20.10" y="742.21" font-size="6.7" text-anchor="end" >0.3</text>
<text x="20.10" y="726.87" font-size="6.7" text-anchor="end" >0.4</text>
<text x="20.10" y="711.54" font-size="6.7" text-anchor="end" >0.5</text>
<text x="20.10" y="696.20" font-size="6.7" text-anchor="end" >0.6</text>
<text x="20.10" y="680.86" font-size="6.7" text-anchor="end" >0.7</text>
<text x="20.10" y="665.52" font-size="6.7" text-anchor="end" >0.8</text>
<text x="20.10" y="650.19" font-size="6.7" text-anchor="end" >0.9</text>
<text x="25.00" y="804.50" font-size="6.7" text-anchor="middle" >-60</text>
<text x="40.02" y="804.50" font-size="6.7" text-anchor="middle" >-50</text>
<text x="55.03" y="804.50" font-size="6.7" text-anchor="middle" >-40</text>
<text x="70.05" y="804.50" font-size="6.7" text-anchor="middle" >-30</text>
<text x="85.07" y="804.50" font-size="6.7" text-anchor="middle" >-20</text>
<text x="100.09" y="804.50" font-size="6.7" text-anchor="middle" >-10</text>
<text x="114.80" y="804.50" font-size="6.7" text-anchor="middle" >0</text>
<text x="129.82" y="804.50" font-size="6.7" text-anchor="middle" >10</text>
<text x="144.84" y="804.50" font-size="6.7" text-anchor="middle" >20</text>
<text x="159.85" y="804.50" font-size="6.7" text-anchor="middle" >30</text>
<text x="174.87" y="804.50" font-size="6.7" text-anchor="middle" >40</text>
<text x="189.89" y="804.50" font-size="6.7" text-anchor="middle" >50</text>
<text x="204.90" y="804.50" font-size="6.7" text-anchor="middle" >60</text>
</g>
<text x="114.90" y="813.10" font-size="7.65" text-anchor="middle" >Position (°)</text>
<text x="117.20" y="828.50" font-size="12" text-anchor="middle" stroke-width="0.45">(g)</text>
<text transform="translate(7.70 721.20) rotate(-90)" font-size="7.65" text-anchor="middle">Angle error (°)</text>
<text x="129.70" y="634.80" font-size="7.65" text-anchor="start" >Using Method I calibration results</text>
<text x="129.70" y="644.12" font-size="7.65" text-anchor="start" >Using Method II calibration results</text>
<text x="129.70" y="653.44" font-size="7.65" text-anchor="start" >Using Method III calibration results</text>
<text x="129.70" y="662.76" font-size="7.65" text-anchor="start" >Using Method IV calibration results</text>
<text x="129.70" y="672.08" font-size="7.65" text-anchor="start" >Using Method V calibration results</text>
</g>
<path d="M110.30 631.70H127.80" stroke="#C99AF8" stroke-width="0.9"/>
<path d="M119.05 629.80L120.95 631.70L119.05 633.60L117.15 631.70Z" fill="#C28CFA"/>
<path d="M110.30 641.02H127.80" stroke="#5CB6F2" stroke-width="0.9"/>
<path d="M119.05 639.12L121.10 642.54L117.00 642.54Z" fill="#3AA6F5"/>
<path d="M110.30 650.34H127.80" stroke="#F27F7F" stroke-width="0.9"/>
<circle cx="119.05" cy="650.34" r="1.60" fill="#F76868"/>
<path d="M110.30 659.66H127.80" stroke="#52EDB9" stroke-width="0.9"/>
<rect x="117.60" y="658.21" width="2.90" height="2.90" rx="0.5" fill="#30EBA8"/>
<path d="M110.30 668.98H127.80" stroke="#F26AF2" stroke-width="0.9"/>
<circle cx="119.05" cy="668.98" r="1.60" fill="#F540F5"/>
<path d="M47.23 762.88L54.73 763.80L62.24 767.94L69.75 766.25L77.26 770.09L84.77 770.39L92.28 771.01L99.79 772.23L107.29 777.91L122.31 781.59L129.82 779.60L137.33 777.30L144.84 775.46L152.34 770.24L159.85 770.09L167.36 766.71L174.87 769.47L182.38 769.01" fill="none" stroke="#C99AF8" stroke-width="0.9"/>
<path d="M47.23 685.26L54.73 686.79L62.24 690.62L69.75 697.07L77.26 709.49L84.77 716.55L92.28 737.26L99.79 755.21L107.29 771.62L122.31 767.63L129.82 749.99L137.33 734.96L144.84 717.93L152.34 708.57L159.85 695.84L167.36 691.39L174.87 685.56L182.38 686.18" fill="none" stroke="#5CB6F2" stroke-width="0.9"/>
<path d="M47.23 770.09L54.73 772.23L62.24 772.85L69.75 775.30L77.26 774.07L84.77 781.74L92.28 776.07L99.79 777.60L107.29 780.67L122.31 784.97L129.82 783.59L137.33 780.82L144.84 781.59L152.34 777.14L159.85 780.36L167.36 776.84L174.87 778.37L182.38 777.76" fill="none" stroke="#F27F7F" stroke-width="0.9"/>
<path d="M47.23 767.94L54.73 768.71L62.24 768.55L69.75 771.01L77.26 770.24L84.77 779.14L92.28 773.46L99.79 776.07L107.29 778.83L122.31 783.43L129.82 781.59L137.33 777.76L144.84 778.22L152.34 772.85L159.85 775.00L167.36 770.55L174.87 772.23L182.38 771.31" fill="none" stroke="#52EDB9" stroke-width="0.9"/>
<path d="M47.23 784.05L54.73 784.05L62.24 784.35L69.75 785.27L77.26 783.13L84.77 784.20L92.28 781.90L99.79 781.59L107.29 782.20L122.31 785.43L129.82 786.04L137.33 786.50L144.84 783.89L152.34 786.19L159.85 782.66L167.36 786.50L174.87 783.74L182.38 784.81" fill="none" stroke="#F26AF2" stroke-width="0.9"/>
<path d="M47.23 760.98L49.13 762.88L47.23 764.78L45.33 762.88Z" fill="#C28CFA"/>
<path d="M54.73 761.90L56.63 763.80L54.73 765.70L52.83 763.80Z" fill="#C28CFA"/>
<path d="M62.24 766.04L64.14 767.94L62.24 769.84L60.34 767.94Z" fill="#C28CFA"/>
<path d="M69.75 764.35L71.65 766.25L69.75 768.15L67.85 766.25Z" fill="#C28CFA"/>
<path d="M77.26 768.19L79.16 770.09L77.26 771.99L75.36 770.09Z" fill="#C28CFA"/>
<path d="M84.77 768.49L86.67 770.39L84.77 772.29L82.87 770.39Z" fill="#C28CFA"/>
<path d="M92.28 769.11L94.18 771.01L92.28 772.91L90.38 771.01Z" fill="#C28CFA"/>
<path d="M99.79 770.33L101.69 772.23L99.79 774.13L97.89 772.23Z" fill="#C28CFA"/>
<path d="M107.29 776.01L109.19 777.91L107.29 779.81L105.39 777.91Z" fill="#C28CFA"/>
<path d="M122.31 779.69L124.21 781.59L122.31 783.49L120.41 781.59Z" fill="#C28CFA"/>
<path d="M129.82 777.70L131.72 779.60L129.82 781.50L127.92 779.60Z" fill="#C28CFA"/>
<path d="M137.33 775.40L139.23 777.30L137.33 779.20L135.43 777.30Z" fill="#C28CFA"/>
<path d="M144.84 773.56L146.74 775.46L144.84 777.36L142.94 775.46Z" fill="#C28CFA"/>
<path d="M152.34 768.34L154.24 770.24L152.34 772.14L150.44 770.24Z" fill="#C28CFA"/>
<path d="M159.85 768.19L161.75 770.09L159.85 771.99L157.95 770.09Z" fill="#C28CFA"/>
<path d="M167.36 764.81L169.26 766.71L167.36 768.61L165.46 766.71Z" fill="#C28CFA"/>
<path d="M174.87 767.57L176.77 769.47L174.87 771.37L172.97 769.47Z" fill="#C28CFA"/>
<path d="M182.38 767.11L184.28 769.01L182.38 770.91L180.48 769.01Z" fill="#C28CFA"/>
<path d="M47.23 683.36L49.28 686.78L45.18 686.78Z" fill="#3AA6F5"/>
<path d="M54.73 684.89L56.78 688.31L52.68 688.31Z" fill="#3AA6F5"/>
<path d="M62.24 688.73L64.29 692.14L60.19 692.14Z" fill="#3AA6F5"/>
<path d="M69.75 695.17L71.80 698.59L67.70 698.59Z" fill="#3AA6F5"/>
<path d="M77.26 707.59L79.31 711.01L75.21 711.01Z" fill="#3AA6F5"/>
<path d="M84.77 714.65L86.82 718.07L82.72 718.07Z" fill="#3AA6F5"/>
<path d="M92.28 735.36L94.33 738.78L90.23 738.78Z" fill="#3AA6F5"/>
<path d="M99.79 753.31L101.84 756.73L97.74 756.73Z" fill="#3AA6F5"/>
<path d="M107.29 769.72L109.34 773.14L105.24 773.14Z" fill="#3AA6F5"/>
<path d="M122.31 765.73L124.36 769.15L120.26 769.15Z" fill="#3AA6F5"/>
<path d="M129.82 748.09L131.87 751.51L127.77 751.51Z" fill="#3AA6F5"/>
<path d="M137.33 733.06L139.38 736.48L135.28 736.48Z" fill="#3AA6F5"/>
<path d="M144.84 716.03L146.89 719.45L142.79 719.45Z" fill="#3AA6F5"/>
<path d="M152.34 706.67L154.39 710.09L150.29 710.09Z" fill="#3AA6F5"/>
<path d="M159.85 693.94L161.90 697.36L157.80 697.36Z" fill="#3AA6F5"/>
<path d="M167.36 689.49L169.41 692.91L165.31 692.91Z" fill="#3AA6F5"/>
<path d="M174.87 683.66L176.92 687.08L172.82 687.08Z" fill="#3AA6F5"/>
<path d="M182.38 684.28L184.43 687.70L180.33 687.70Z" fill="#3AA6F5"/>
<circle cx="47.23" cy="770.09" r="1.60" fill="#F76868"/>
<circle cx="54.73" cy="772.23" r="1.60" fill="#F76868"/>
<circle cx="62.24" cy="772.85" r="1.60" fill="#F76868"/>
<circle cx="69.75" cy="775.30" r="1.60" fill="#F76868"/>
<circle cx="77.26" cy="774.07" r="1.60" fill="#F76868"/>
<circle cx="84.77" cy="781.74" r="1.60" fill="#F76868"/>
<circle cx="92.28" cy="776.07" r="1.60" fill="#F76868"/>
<circle cx="99.79" cy="777.60" r="1.60" fill="#F76868"/>
<circle cx="107.29" cy="780.67" r="1.60" fill="#F76868"/>
<circle cx="122.31" cy="784.97" r="1.60" fill="#F76868"/>
<circle cx="129.82" cy="783.59" r="1.60" fill="#F76868"/>
<circle cx="137.33" cy="780.82" r="1.60" fill="#F76868"/>
<circle cx="144.84" cy="781.59" r="1.60" fill="#F76868"/>
<circle cx="152.34" cy="777.14" r="1.60" fill="#F76868"/>
<circle cx="159.85" cy="780.36" r="1.60" fill="#F76868"/>
<circle cx="167.36" cy="776.84" r="1.60" fill="#F76868"/>
<circle cx="174.87" cy="778.37" r="1.60" fill="#F76868"/>
<circle cx="182.38" cy="777.76" r="1.60" fill="#F76868"/>
<rect x="45.78" y="766.49" width="2.90" height="2.90" rx="0.5" fill="#30EBA8"/>
<rect x="53.28" y="767.26" width="2.90" height="2.90" rx="0.5" fill="#30EBA8"/>
<rect x="60.79" y="767.10" width="2.90" height="2.90" rx="0.5" fill="#30EBA8"/>
<rect x="68.30" y="769.56" width="2.90" height="2.90" rx="0.5" fill="#30EBA8"/>
<rect x="75.81" y="768.79" width="2.90" height="2.90" rx="0.5" fill="#30EBA8"/>
<rect x="83.32" y="777.69" width="2.90" height="2.90" rx="0.5" fill="#30EBA8"/>
<rect x="90.83" y="772.01" width="2.90" height="2.90" rx="0.5" fill="#30EBA8"/>
<rect x="98.34" y="774.62" width="2.90" height="2.90" rx="0.5" fill="#30EBA8"/>
<rect x="105.84" y="777.38" width="2.90" height="2.90" rx="0.5" fill="#30EBA8"/>
<rect x="120.86" y="781.98" width="2.90" height="2.90" rx="0.5" fill="#30EBA8"/>
<rect x="128.37" y="780.14" width="2.90" height="2.90" rx="0.5" fill="#30EBA8"/>
<rect x="135.88" y="776.31" width="2.90" height="2.90" rx="0.5" fill="#30EBA8"/>
<rect x="143.39" y="776.77" width="2.90" height="2.90" rx="0.5" fill="#30EBA8"/>
<rect x="150.89" y="771.40" width="2.90" height="2.90" rx="0.5" fill="#30EBA8"/>
<rect x="158.40" y="773.54" width="2.90" height="2.90" rx="0.5" fill="#30EBA8"/>
<rect x="165.91" y="769.10" width="2.90" height="2.90" rx="0.5" fill="#30EBA8"/>
<rect x="173.42" y="770.78" width="2.90" height="2.90" rx="0.5" fill="#30EBA8"/>
<rect x="180.93" y="769.86" width="2.90" height="2.90" rx="0.5" fill="#30EBA8"/>
<circle cx="47.23" cy="784.05" r="1.60" fill="#F540F5"/>
<circle cx="54.73" cy="784.05" r="1.60" fill="#F540F5"/>
<circle cx="62.24" cy="784.35" r="1.60" fill="#F540F5"/>
<circle cx="69.75" cy="785.27" r="1.60" fill="#F540F5"/>
<circle cx="77.26" cy="783.13" r="1.60" fill="#F540F5"/>
<circle cx="84.77" cy="784.20" r="1.60" fill="#F540F5"/>
<circle cx="92.28" cy="781.90" r="1.60" fill="#F540F5"/>
<circle cx="99.79" cy="781.59" r="1.60" fill="#F540F5"/>
<circle cx="107.29" cy="782.20" r="1.60" fill="#F540F5"/>
<circle cx="122.31" cy="785.43" r="1.60" fill="#F540F5"/>
<circle cx="129.82" cy="786.04" r="1.60" fill="#F540F5"/>
<circle cx="137.33" cy="786.50" r="1.60" fill="#F540F5"/>
<circle cx="144.84" cy="783.89" r="1.60" fill="#F540F5"/>
<circle cx="152.34" cy="786.19" r="1.60" fill="#F540F5"/>
<circle cx="159.85" cy="782.66" r="1.60" fill="#F540F5"/>
<circle cx="167.36" cy="786.50" r="1.60" fill="#F540F5"/>
<circle cx="174.87" cy="783.74" r="1.60" fill="#F540F5"/>
<circle cx="182.38" cy="784.81" r="1.60" fill="#F540F5"/>
<rect x="295.50" y="141.10" width="14.80" height="25.30" fill="#D8B4FE" stroke="#433a4c" stroke-width="0.7"/>
<rect x="331.60" y="78.50" width="14.80" height="87.90" fill="#86CEFC" stroke="#343f48" stroke-width="0.7"/>
<rect x="367.70" y="150.00" width="14.80" height="16.40" fill="#66F4C8" stroke="#2e4a40" stroke-width="0.7"/>
<rect x="403.80" y="145.90" width="14.80" height="20.50" fill="#FC9C9C" stroke="#4c3a3a" stroke-width="0.7"/>
<rect x="439.90" y="156.30" width="14.80" height="10.10" fill="#F772F7" stroke="#4c2e4c" stroke-width="0.7"/>
<path d="M302.90 133.50V148.00M301.30 133.50h3.2M301.30 148.00h3.2" stroke="#2a2a2a" stroke-width="0.85" fill="none"/>
<path d="M339.00 45.60V111.60M337.40 45.60h3.2M337.40 111.60h3.2" stroke="#2a2a2a" stroke-width="0.85" fill="none"/>
<path d="M375.10 146.10V153.40M373.50 146.10h3.2M373.50 153.40h3.2" stroke="#2a2a2a" stroke-width="0.85" fill="none"/>
<path d="M411.20 140.80V151.50M409.60 140.80h3.2M409.60 151.50h3.2" stroke="#2a2a2a" stroke-width="0.85" fill="none"/>
<path d="M447.30 155.30V157.50M445.70 155.30h3.2M445.70 157.50h3.2" stroke="#2a2a2a" stroke-width="0.85" fill="none"/>
<g stroke="#2a2a2a" stroke-width="1.1" fill="none">
<path d="M284.20 20.90V166.40H465.35"/>
<path d="M284.20 157.84h-2.4M284.20 140.72h-2.4M284.20 123.61h-2.4M284.20 106.49h-2.4M284.20 89.37h-2.4M284.20 72.26h-2.4M284.20 55.14h-2.4M284.20 38.02h-2.4M284.20 20.90h-2.4M284.20 149.28h-1.3M284.20 132.16h-1.3M284.20 115.05h-1.3M284.20 97.93h-1.3M284.20 80.81h-1.3M284.20 63.70h-1.3M284.20 46.58h-1.3M284.20 29.46h-1.3M302.90 166.40v2.4M339.00 166.40v2.4M375.10 166.40v2.4M411.20 166.40v2.4M447.30 166.40v2.4M320.95 166.40v1.3M357.05 166.40v1.3M393.15 166.40v1.3M429.25 166.40v1.3M465.35 166.40v1.3" stroke-width="0.9"/>
</g>
<g fill="#1a1a1a" stroke="#1a1a1a" stroke-width="0.1" font-family='"Liberation Serif", serif'>
<g stroke-width="0.1">
<text x="279.60" y="159.59" font-size="6.7" text-anchor="end" >0.0</text>
<text x="279.60" y="142.47" font-size="6.7" text-anchor="end" >0.1</text>
<text x="279.60" y="125.36" font-size="6.7" text-anchor="end" >0.2</text>
<text x="279.60" y="108.24" font-size="6.7" text-anchor="end" >0.3</text>
<text x="279.60" y="91.12" font-size="6.7" text-anchor="end" >0.4</text>
<text x="279.60" y="74.01" font-size="6.7" text-anchor="end" >0.5</text>
<text x="279.60" y="56.89" font-size="6.7" text-anchor="end" >0.6</text>
<text x="279.60" y="39.77" font-size="6.7" text-anchor="end" >0.7</text>
<text x="279.60" y="22.65" font-size="6.7" text-anchor="end" >0.8</text>
<text x="302.90" y="176.40" font-size="6.7" text-anchor="middle" >1</text>
<text x="339.00" y="176.40" font-size="6.7" text-anchor="middle" >2</text>
<text x="375.10" y="176.40" font-size="6.7" text-anchor="middle" >3</text>
<text x="411.20" y="176.40" font-size="6.7" text-anchor="middle" >4</text>
<text x="447.30" y="176.40" font-size="6.7" text-anchor="middle" >5</text>
</g>
<text x="375.10" y="188.60" font-size="7.65" text-anchor="middle" >Measurement method</text>
<text x="377.10" y="200.80" font-size="12" text-anchor="middle" stroke-width="0.45">(b)</text>
<text transform="translate(270.00 93.85) rotate(-90)" font-size="7.65" text-anchor="middle">Mean measurement error (°)</text>
<text x="384.70" y="12.05" font-size="7.65" text-anchor="start" >Using Method I calibration results</text>
<text x="384.70" y="20.90" font-size="7.65" text-anchor="start" >Using Method II calibration results</text>
<text x="384.70" y="29.75" font-size="7.65" text-anchor="start" >Using Method III calibration results</text>
<text x="384.70" y="38.60" font-size="7.65" text-anchor="start" >Using Method IV calibration results</text>
<text x="384.70" y="47.45" font-size="7.65" text-anchor="start" >Using Method V calibration results</text>
</g>
<rect x="366.40" y="5.25" width="15.50" height="7.4" rx="0.4" fill="#D8B4FE" stroke="#433a4c" stroke-width="0.8"/>
<rect x="366.40" y="14.10" width="15.50" height="7.4" rx="0.4" fill="#86CEFC" stroke="#343f48" stroke-width="0.8"/>
<rect x="366.40" y="22.95" width="15.50" height="7.4" rx="0.4" fill="#FC9C9C" stroke="#4c3a3a" stroke-width="0.8"/>
<rect x="366.40" y="31.80" width="15.50" height="7.4" rx="0.4" fill="#66F4C8" stroke="#2e4a40" stroke-width="0.8"/>
<rect x="366.40" y="40.65" width="15.50" height="7.4" rx="0.4" fill="#F772F7" stroke="#4c2e4c" stroke-width="0.8"/>
<rect x="290.60" y="348.90" width="14.80" height="26.75" fill="#D8B4FE" stroke="#433a4c" stroke-width="0.7"/>
<rect x="326.70" y="288.40" width="14.80" height="87.25" fill="#86CEFC" stroke="#343f48" stroke-width="0.7"/>
<rect x="362.80" y="358.70" width="14.80" height="16.95" fill="#FC9C9C" stroke="#4c3a3a" stroke-width="0.7"/>
<rect x="398.90" y="354.50" width="14.80" height="21.15" fill="#66F4C8" stroke="#2e4a40" stroke-width="0.7"/>
<rect x="435.00" y="364.80" width="14.80" height="10.85" fill="#F772F7" stroke="#4c2e4c" stroke-width="0.7"/>
<path d="M298.00 341.60V356.00M296.40 341.60h3.2M296.40 356.00h3.2" stroke="#2a2a2a" stroke-width="0.85" fill="none"/>
<path d="M334.10 255.20V320.60M332.50 255.20h3.2M332.50 320.60h3.2" stroke="#2a2a2a" stroke-width="0.85" fill="none"/>
<path d="M370.20 354.50V363.50M368.60 354.50h3.2M368.60 363.50h3.2" stroke="#2a2a2a" stroke-width="0.85" fill="none"/>
<path d="M406.30 348.40V361.30M404.70 348.40h3.2M404.70 361.30h3.2" stroke="#2a2a2a" stroke-width="0.85" fill="none"/>
<path d="M442.40 362.90V366.50M440.80 362.90h3.2M440.80 366.50h3.2" stroke="#2a2a2a" stroke-width="0.85" fill="none"/>
<g stroke="#2a2a2a" stroke-width="1.1" fill="none">
<path d="M279.40 229.85V375.65H460.45"/>
<path d="M279.40 367.07h-2.4M279.40 349.92h-2.4M279.40 332.76h-2.4M279.40 315.61h-2.4M279.40 298.46h-2.4M279.40 281.31h-2.4M279.40 264.15h-2.4M279.40 247.00h-2.4M279.40 229.85h-2.4M279.40 358.49h-1.3M279.40 341.34h-1.3M279.40 324.19h-1.3M279.40 307.03h-1.3M279.40 289.88h-1.3M279.40 272.73h-1.3M279.40 255.58h-1.3M279.40 238.42h-1.3M298.00 375.65v2.4M334.10 375.65v2.4M370.20 375.65v2.4M406.30 375.65v2.4M442.40 375.65v2.4M316.05 375.65v1.3M352.15 375.65v1.3M388.25 375.65v1.3M424.35 375.65v1.3M460.45 375.65v1.3" stroke-width="0.9"/>
</g>
<g fill="#1a1a1a" stroke="#1a1a1a" stroke-width="0.1" font-family='"Liberation Serif", serif'>
<g stroke-width="0.1">
<text x="274.80" y="368.82" font-size="6.7" text-anchor="end" >0.0</text>
<text x="274.80" y="351.67" font-size="6.7" text-anchor="end" >0.1</text>
<text x="274.80" y="334.51" font-size="6.7" text-anchor="end" >0.2</text>
<text x="274.80" y="317.36" font-size="6.7" text-anchor="end" >0.3</text>
<text x="274.80" y="300.21" font-size="6.7" text-anchor="end" >0.4</text>
<text x="274.80" y="283.06" font-size="6.7" text-anchor="end" >0.5</text>
<text x="274.80" y="265.90" font-size="6.7" text-anchor="end" >0.6</text>
<text x="274.80" y="248.75" font-size="6.7" text-anchor="end" >0.7</text>
<text x="274.80" y="231.60" font-size="6.7" text-anchor="end" >0.8</text>
<text x="298.00" y="385.50" font-size="6.7" text-anchor="middle" >1</text>
<text x="334.10" y="385.50" font-size="6.7" text-anchor="middle" >2</text>
<text x="370.20" y="385.50" font-size="6.7" text-anchor="middle" >3</text>
<text x="406.30" y="385.50" font-size="6.7" text-anchor="middle" >4</text>
<text x="442.40" y="385.50" font-size="6.7" text-anchor="middle" >5</text>
</g>
<text x="370.10" y="396.80" font-size="7.65" text-anchor="middle" >Measurement method</text>
<text x="374.20" y="409.00" font-size="12" text-anchor="middle" stroke-width="0.45">(d)</text>
<text transform="translate(265.30 302.80) rotate(-90)" font-size="7.65" text-anchor="middle">Mean measurement error (°)</text>
<text x="379.70" y="220.50" font-size="7.65" text-anchor="start" >Using Method I calibration results</text>
<text x="379.70" y="229.38" font-size="7.65" text-anchor="start" >Using Method II calibration results</text>
<text x="379.70" y="238.25" font-size="7.65" text-anchor="start" >Using Method III calibration results</text>
<text x="379.70" y="247.12" font-size="7.65" text-anchor="start" >Using Method IV calibration results</text>
<text x="379.70" y="256.00" font-size="7.65" text-anchor="start" >Using Method V calibration results</text>
</g>
<rect x="361.40" y="213.70" width="16.40" height="7.4" rx="0.4" fill="#D8B4FE" stroke="#433a4c" stroke-width="0.8"/>
<rect x="361.40" y="222.58" width="16.40" height="7.4" rx="0.4" fill="#86CEFC" stroke="#343f48" stroke-width="0.8"/>
<rect x="361.40" y="231.45" width="16.40" height="7.4" rx="0.4" fill="#FC9C9C" stroke="#4c3a3a" stroke-width="0.8"/>
<rect x="361.40" y="240.33" width="16.40" height="7.4" rx="0.4" fill="#66F4C8" stroke="#2e4a40" stroke-width="0.8"/>
<rect x="361.40" y="249.20" width="16.40" height="7.4" rx="0.4" fill="#F772F7" stroke="#4c2e4c" stroke-width="0.8"/>
<rect x="290.60" y="556.60" width="14.80" height="24.86" fill="#D8B4FE" stroke="#433a4c" stroke-width="0.7"/>
<rect x="326.70" y="493.50" width="14.80" height="87.96" fill="#86CEFC" stroke="#343f48" stroke-width="0.7"/>
<rect x="362.80" y="565.20" width="14.80" height="16.26" fill="#FC9C9C" stroke="#4c3a3a" stroke-width="0.7"/>
<rect x="398.90" y="560.60" width="14.80" height="20.86" fill="#66F4C8" stroke="#2e4a40" stroke-width="0.7"/>
<rect x="435.00" y="571.30" width="14.80" height="10.16" fill="#F772F7" stroke="#4c2e4c" stroke-width="0.7"/>
<path d="M298.00 550.60V562.30M296.40 550.60h3.2M296.40 562.30h3.2" stroke="#2a2a2a" stroke-width="0.85" fill="none"/>
<path d="M334.10 461.30V526.50M332.50 461.30h3.2M332.50 526.50h3.2" stroke="#2a2a2a" stroke-width="0.85" fill="none"/>
<path d="M370.20 560.60V569.40M368.60 560.60h3.2M368.60 569.40h3.2" stroke="#2a2a2a" stroke-width="0.85" fill="none"/>
<path d="M406.30 554.80V566.80M404.70 554.80h3.2M404.70 566.80h3.2" stroke="#2a2a2a" stroke-width="0.85" fill="none"/>
<path d="M442.40 570.30V572.30M440.80 570.30h3.2M440.80 572.30h3.2" stroke="#2a2a2a" stroke-width="0.85" fill="none"/>
<g stroke="#2a2a2a" stroke-width="1.1" fill="none">
<path d="M279.40 436.03V581.46H460.45"/>
<path d="M279.40 572.91h-2.4M279.40 555.80h-2.4M279.40 538.69h-2.4M279.40 521.58h-2.4M279.40 504.47h-2.4M279.40 487.36h-2.4M279.40 470.25h-2.4M279.40 453.14h-2.4M279.40 436.03h-2.4M279.40 564.36h-1.3M279.40 547.25h-1.3M279.40 530.13h-1.3M279.40 513.02h-1.3M279.40 495.91h-1.3M279.40 478.80h-1.3M279.40 461.69h-1.3M279.40 444.58h-1.3M298.00 581.46v2.4M334.10 581.46v2.4M370.20 581.46v2.4M406.30 581.46v2.4M442.40 581.46v2.4M316.05 581.46v1.3M352.15 581.46v1.3M388.25 581.46v1.3M424.35 581.46v1.3M460.45 581.46v1.3" stroke-width="0.9"/>
</g>
<g fill="#1a1a1a" stroke="#1a1a1a" stroke-width="0.1" font-family='"Liberation Serif", serif'>
<g stroke-width="0.1">
<text x="274.80" y="574.66" font-size="6.7" text-anchor="end" >0.0</text>
<text x="274.80" y="557.55" font-size="6.7" text-anchor="end" >0.1</text>
<text x="274.80" y="540.44" font-size="6.7" text-anchor="end" >0.2</text>
<text x="274.80" y="523.33" font-size="6.7" text-anchor="end" >0.3</text>
<text x="274.80" y="506.22" font-size="6.7" text-anchor="end" >0.4</text>
<text x="274.80" y="489.11" font-size="6.7" text-anchor="end" >0.5</text>
<text x="274.80" y="472.00" font-size="6.7" text-anchor="end" >0.6</text>
<text x="274.80" y="454.89" font-size="6.7" text-anchor="end" >0.7</text>
<text x="274.80" y="437.78" font-size="6.7" text-anchor="end" >0.8</text>
<text x="298.00" y="591.80" font-size="6.7" text-anchor="middle" >1</text>
<text x="334.10" y="591.80" font-size="6.7" text-anchor="middle" >2</text>
<text x="370.20" y="591.80" font-size="6.7" text-anchor="middle" >3</text>
<text x="406.30" y="591.80" font-size="6.7" text-anchor="middle" >4</text>
<text x="442.40" y="591.80" font-size="6.7" text-anchor="middle" >5</text>
</g>
<text x="370.00" y="603.70" font-size="7.65" text-anchor="middle" >Measurement method</text>
<text x="374.00" y="620.20" font-size="12" text-anchor="middle" stroke-width="0.45">(f)</text>
<text transform="translate(265.30 508.80) rotate(-90)" font-size="7.65" text-anchor="middle">Mean measurement error (°)</text>
<text x="379.70" y="427.00" font-size="7.65" text-anchor="start" >Using Method I calibration results</text>
<text x="379.70" y="435.90" font-size="7.65" text-anchor="start" >Using Method II calibration results</text>
<text x="379.70" y="444.80" font-size="7.65" text-anchor="start" >Using Method III calibration results</text>
<text x="379.70" y="453.70" font-size="7.65" text-anchor="start" >Using Method IV calibration results</text>
<text x="379.70" y="462.60" font-size="7.65" text-anchor="start" >Using Method V calibration results</text>
</g>
<rect x="361.40" y="420.20" width="16.40" height="7.4" rx="0.4" fill="#D8B4FE" stroke="#433a4c" stroke-width="0.8"/>
<rect x="361.40" y="429.10" width="16.40" height="7.4" rx="0.4" fill="#86CEFC" stroke="#343f48" stroke-width="0.8"/>
<rect x="361.40" y="438.00" width="16.40" height="7.4" rx="0.4" fill="#FC9C9C" stroke="#4c3a3a" stroke-width="0.8"/>
<rect x="361.40" y="446.90" width="16.40" height="7.4" rx="0.4" fill="#66F4C8" stroke="#2e4a40" stroke-width="0.8"/>
<rect x="361.40" y="455.80" width="16.40" height="7.4" rx="0.4" fill="#F772F7" stroke="#4c2e4c" stroke-width="0.8"/>
<rect x="290.60" y="769.20" width="14.80" height="25.06" fill="#D8B4FE" stroke="#433a4c" stroke-width="0.7"/>
<rect x="326.70" y="707.40" width="14.80" height="86.86" fill="#86CEFC" stroke="#343f48" stroke-width="0.7"/>
<rect x="362.80" y="776.10" width="14.80" height="18.16" fill="#FC9C9C" stroke="#4c3a3a" stroke-width="0.7"/>
<rect x="398.90" y="772.30" width="14.80" height="21.96" fill="#66F4C8" stroke="#2e4a40" stroke-width="0.7"/>
<rect x="435.00" y="782.90" width="14.80" height="11.36" fill="#F772F7" stroke="#4c2e4c" stroke-width="0.7"/>
<path d="M298.00 762.70V775.20M296.40 762.70h3.2M296.40 775.20h3.2" stroke="#2a2a2a" stroke-width="0.85" fill="none"/>
<path d="M334.10 674.20V740.00M332.50 674.20h3.2M332.50 740.00h3.2" stroke="#2a2a2a" stroke-width="0.85" fill="none"/>
<path d="M370.20 771.30V781.30M368.60 771.30h3.2M368.60 781.30h3.2" stroke="#2a2a2a" stroke-width="0.85" fill="none"/>
<path d="M406.30 766.50V777.70M404.70 766.50h3.2M404.70 777.70h3.2" stroke="#2a2a2a" stroke-width="0.85" fill="none"/>
<path d="M442.40 781.30V784.80M440.80 781.30h3.2M440.80 784.80h3.2" stroke="#2a2a2a" stroke-width="0.85" fill="none"/>
<g stroke="#2a2a2a" stroke-width="1.1" fill="none">
<path d="M279.40 648.42V794.26H460.45"/>
<path d="M279.40 785.68h-2.4M279.40 768.52h-2.4M279.40 751.37h-2.4M279.40 734.21h-2.4M279.40 717.05h-2.4M279.40 699.89h-2.4M279.40 682.74h-2.4M279.40 665.58h-2.4M279.40 648.42h-2.4M279.40 777.10h-1.3M279.40 759.94h-1.3M279.40 742.79h-1.3M279.40 725.63h-1.3M279.40 708.47h-1.3M279.40 691.32h-1.3M279.40 674.16h-1.3M279.40 657.00h-1.3M298.00 794.26v2.4M334.10 794.26v2.4M370.20 794.26v2.4M406.30 794.26v2.4M442.40 794.26v2.4M316.05 794.26v1.3M352.15 794.26v1.3M388.25 794.26v1.3M424.35 794.26v1.3M460.45 794.26v1.3" stroke-width="0.9"/>
</g>
<g fill="#1a1a1a" stroke="#1a1a1a" stroke-width="0.1" font-family='"Liberation Serif", serif'>
<g stroke-width="0.1">
<text x="274.80" y="787.43" font-size="6.7" text-anchor="end" >0.0</text>
<text x="274.80" y="770.27" font-size="6.7" text-anchor="end" >0.1</text>
<text x="274.80" y="753.12" font-size="6.7" text-anchor="end" >0.2</text>
<text x="274.80" y="735.96" font-size="6.7" text-anchor="end" >0.3</text>
<text x="274.80" y="718.80" font-size="6.7" text-anchor="end" >0.4</text>
<text x="274.80" y="701.64" font-size="6.7" text-anchor="end" >0.5</text>
<text x="274.80" y="684.49" font-size="6.7" text-anchor="end" >0.6</text>
<text x="274.80" y="667.33" font-size="6.7" text-anchor="end" >0.7</text>
<text x="274.80" y="650.17" font-size="6.7" text-anchor="end" >0.8</text>
<text x="298.00" y="803.50" font-size="6.7" text-anchor="middle" >1</text>
<text x="334.10" y="803.50" font-size="6.7" text-anchor="middle" >2</text>
<text x="370.20" y="803.50" font-size="6.7" text-anchor="middle" >3</text>
<text x="406.30" y="803.50" font-size="6.7" text-anchor="middle" >4</text>
<text x="442.40" y="803.50" font-size="6.7" text-anchor="middle" >5</text>
</g>
<text x="370.00" y="814.80" font-size="7.65" text-anchor="middle" >Measurement method</text>
<text x="373.40" y="828.20" font-size="12" text-anchor="middle" stroke-width="0.45">(h)</text>
<text transform="translate(265.30 721.20) rotate(-90)" font-size="7.65" text-anchor="middle">Mean measurement error (°)</text>
<text x="377.50" y="640.20" font-size="7.65" text-anchor="start" >Using Method I calibration results</text>
<text x="377.50" y="649.05" font-size="7.65" text-anchor="start" >Using Method II calibration results</text>
<text x="377.50" y="657.90" font-size="7.65" text-anchor="start" >Using Method III calibration results</text>
<text x="377.50" y="666.75" font-size="7.65" text-anchor="start" >Using Method IV calibration results</text>
<text x="377.50" y="675.60" font-size="7.65" text-anchor="start" >Using Method V calibration results</text>
</g>
<rect x="360.00" y="633.40" width="15.40" height="7.4" rx="0.4" fill="#D8B4FE" stroke="#433a4c" stroke-width="0.8"/>
<rect x="360.00" y="642.25" width="15.40" height="7.4" rx="0.4" fill="#86CEFC" stroke="#343f48" stroke-width="0.8"/>
<rect x="360.00" y="651.10" width="15.40" height="7.4" rx="0.4" fill="#FC9C9C" stroke="#4c3a3a" stroke-width="0.8"/>
<rect x="360.00" y="659.95" width="15.40" height="7.4" rx="0.4" fill="#66F4C8" stroke="#2e4a40" stroke-width="0.8"/>
<rect x="360.00" y="668.80" width="15.40" height="7.4" rx="0.4" fill="#F772F7" stroke="#4c2e4c" stroke-width="0.8"/>
</svg>
</body></html>
